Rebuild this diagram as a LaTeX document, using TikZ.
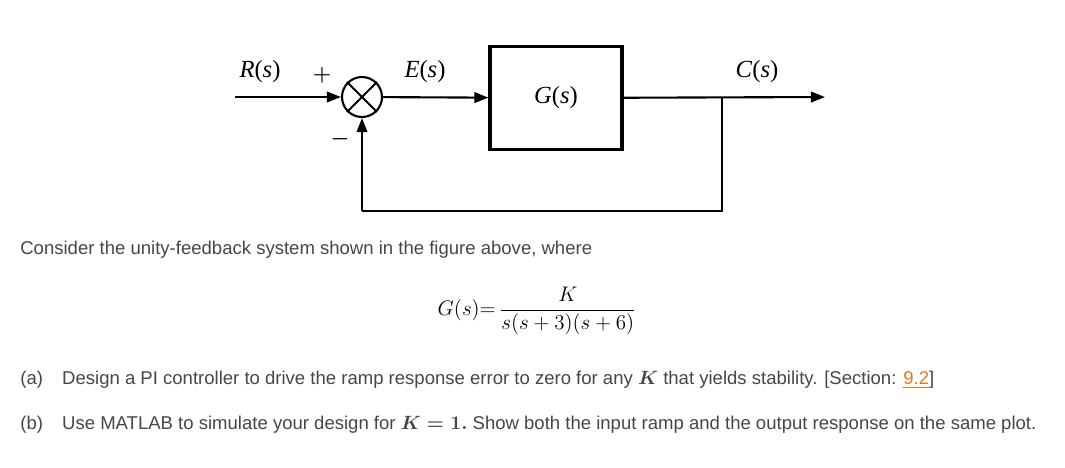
\documentclass[tikz,border=0pt]{standalone}
\usepackage{amsmath,amssymb}
\usepackage{fontspec}
\setmainfont{Liberation Serif}
\newfontfamily\txtfont{Liberation Sans}
\usetikzlibrary{arrows.meta,positioning}
\definecolor{txtgray}{RGB}{70,70,70}
\definecolor{linkorange}{RGB}{230,120,30}
\begin{document}
\begin{tikzpicture}[x=0.02cm,y=-0.02cm,
	sig/.style={line width=1.2pt,-{Triangle[length=8pt,width=6pt]}},
	wire/.style={line width=1.2pt},
	lbl/.style={font=\fontsize{14}{16}\selectfont},
	txt/.style={font=\txtfont\fontsize{10.55}{12}\selectfont,text=txtgray,anchor=west,inner sep=0pt}]
	\useasboundingbox (0,0) rectangle (1065,467);
	
	% Diagrama de bloques
	\coordinate (in) at (235,97);
	\node[circle,draw,line width=1.2pt,minimum size=40*0.02cm,inner sep=0pt] (sum) at (362,97) {};
	\draw[line width=1.2pt] (sum.north west) -- (sum.south east) (sum.north east) -- (sum.south west);
	\node[draw,line width=1.8pt,minimum width=132*0.02cm,minimum height=103*0.02cm,lbl] (plant) at (556,98) {\textit{G}(\textit{s})};
	\coordinate (out) at (825,97);
	\coordinate (tap) at (722,97);
	\coordinate (fb1) at (722,211);
	\coordinate (fb2) at (362,211);
	
	\draw[sig] (in) -- (sum);
	\draw[sig] (sum) -- (plant);
	\draw[sig] (plant) -- (out);
	\draw[wire] (tap) -- (fb1) -- (fb2);
	\draw[sig] (fb2) -- (sum);
	
	% Etiquetas
	\node[lbl] (rlab) at (260,72) {\textit{R}(\textit{s})};
	\node[lbl] (elab) at (425,72) {\textit{E}(\textit{s})};
	\node[lbl] (clab) at (757,72) {\textit{C}(\textit{s})};
	\node[font=\bfseries\fontsize{12}{14}\selectfont] (plus) at (322,75) {$\boldsymbol{+}$};
	\node[font=\fontsize{12}{14}\selectfont] (minus) at (340,139) {$\boldsymbol{-}$};
	
	% Enunciado
	\node[txt] (cons) at (20,250) {Consider the unity-feedback system shown in the figure above, where};
	\node[font=\fontsize{12}{14}\selectfont] (geq) at (537,311) {$G(s){=}\,\dfrac{K}{s(s+3)(s+6)}$};
	\node[txt] (pa) at (20,380) {(a)\hspace{8pt} Design a PI controller to drive the ramp response error to zero for any $\boldsymbol{K}$ that yields stability. [Section: {\color{linkorange}\underline{9.2}}]};
	\node[txt] (pb) at (20,425) {(b)\hspace{8pt} Use MATLAB to simulate your design for $\boldsymbol{K=1.}$ Show both the input ramp and the output response on the same plot.};
\end{tikzpicture}
\end{document}
